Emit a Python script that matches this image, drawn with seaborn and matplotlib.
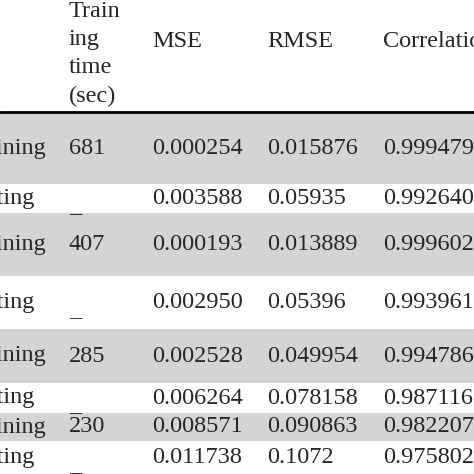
import matplotlib
matplotlib.use('Agg')
import matplotlib.pyplot as plt
import seaborn as sns

sns.set_theme(style='white')
plt.rcParams['font.family'] = ['Liberation Serif', 'DejaVu Serif']

# table content
row_labels = ['Training', 'Testing'] * 4
train_time = ['681', '_', '407', '_', '285', '_', '230', '_']
mse = ['0.000254', '0.003588', '0.000193', '0.002950', '0.002528', '0.006264', '0.008571', '0.011738']
rmse = ['0.015876', '0.05935', '0.013889', '0.05396', '0.049954', '0.078158', '0.090863', '0.1072']
corr = ['0.999479', '0.992640', '0.999602', '0.993961', '0.994786', '0.987116', '0.982207', '0.975802']
headers = ['Train\ning\ntime\n(sec)', 'MSE', 'RMSE', 'Correlation']

# layout (pixel units)
row_edges = [113, 184, 213, 276, 329, 383, 413, 441, 474]
col_x = [69, 152, 267, 383]
gray = '#d4d4d4'

fig = plt.figure(figsize=(4.74, 4.74), dpi=100)
ax = fig.add_axes([0, 0, 1, 1])
ax.set_xlim(0, 474)
ax.set_ylim(474, 0)
ax.axis('off')

fs = 17.5
ax.axhline(112, color='black', lw=2)
for i in range(len(row_labels)):
    top, bot = row_edges[i], row_edges[i + 1]
    if row_labels[i] == 'Training':
        ax.axhspan(top, bot, color=gray, lw=0)
    yc = (top + bot) / 2
    ax.text(-36, yc, row_labels[i], ha='left', va='center', fontsize=fs)
    ax.text(col_x[0], yc + (8 if train_time[i] == '_' else 0), train_time[i],
            ha='left', va='center', fontsize=fs)
    ax.text(col_x[1], yc, mse[i], ha='left', va='center', fontsize=fs)
    ax.text(col_x[2], yc, rmse[i], ha='left', va='center', fontsize=fs)
    ax.text(col_x[3], yc, corr[i], ha='left', va='center', fontsize=fs)

ax.text(col_x[0], 54, headers[0], ha='left', va='center', fontsize=fs, linespacing=1.45)
for j in range(1, 4):
    ax.text(col_x[j], 41, headers[j], ha='left', va='center', fontsize=fs)

fig.savefig('out.png', dpi=100)
